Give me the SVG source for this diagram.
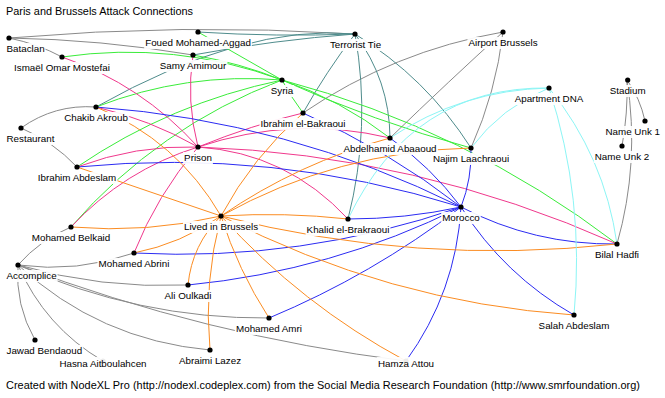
<svg xmlns="http://www.w3.org/2000/svg" width="665" height="398" viewBox="0 0 665 398">
<style>
text{font-family:"Liberation Sans",Arial,sans-serif;font-size:9.8px;fill:#000}
.ttl{font-size:10.9px}
#edges path{fill:none;stroke-width:1}
.g{stroke:#8a8a8a}.t{stroke:#4f8c8c}.gr{stroke:#3aec3a}.p{stroke:#f0388c}.b{stroke:#2b2bf2}.o{stroke:#fb8c22}.c{stroke:#8cf5f5}
.n circle{fill:#000}
.n rect{fill:#fff;fill-opacity:.92}
.m{text-anchor:middle}
</style>
<rect width="665" height="398" fill="#fff"/>
<text class="ttl" x="6" y="15">Paris and Brussels Attack Connections</text>
<g id="edges">
<path class="g" d="M9 38 Q38 44 62 57"/>
<path class="g" d="M9 38 Q101 39.5 193 55"/>
<path class="g" d="M9 38 Q182 23 355 34"/>
<path class="g" d="M21 128 Q54.7 104 96 107"/>
<path class="g" d="M21 128 Q53 141.5 77 167"/>
<path class="g" d="M503 32 Q394 51 303 113"/>
<path class="g" d="M503 32 Q450 80 390 138"/>
<path class="g" d="M503 32 Q496 92 471 148"/>
<path class="g" d="M18 265 Q40 240 71 227"/>
<path class="g" d="M18 265 Q77 273 134 253"/>
<path class="g" d="M18 265 Q101 289 188 285"/>
<path class="g" d="M18 265 Q138 319 269 318"/>
<path class="g" d="M18 265 Q99 340 210 350"/>
<path class="g" d="M18 265 Q206 336 406 361"/>
<path class="g" d="M18 265 Q15 305 35 340"/>
<path class="g" d="M18 265 Q45 327 103 361"/>
<path class="g" d="M627 80 Q640 98 645 121"/>
<path class="g" d="M627 80 Q628 113 622 146"/>
<path class="g" d="M627 80 Q640 163 617 244"/>
<path class="t" d="M198 32 Q276 37 355 34"/>
<path class="t" d="M193 55 Q274 40 355 34"/>
<path class="t" d="M96 107 Q244.5 23.5 355 34"/>
<path class="t" d="M355 34 Q326 72 303 113"/>
<path class="t" d="M355 34 Q371.5 126.5 348 219"/>
<path class="t" d="M355 34 Q389.5 80 390 138"/>
<path class="t" d="M355 34 Q426 77.5 471 148"/>
<path class="gr" d="M198 32 Q240 56 282 80"/>
<path class="gr" d="M62 57 Q175 40.6 282 80"/>
<path class="gr" d="M193 55 Q240 63 282 80"/>
<path class="gr" d="M96 107 Q186 72 282 80"/>
<path class="gr" d="M77 167 Q171 103 282 80"/>
<path class="gr" d="M71 227 Q158 127 282 80"/>
<path class="gr" d="M282 80 Q291 97 303 113"/>
<path class="gr" d="M282 80 Q341 100 390 138"/>
<path class="gr" d="M282 80 Q374 121.5 471 148"/>
<path class="gr" d="M282 80 Q466 129 617 244"/>
<path class="p" d="M62 57 Q141.6 84.5 198 147"/>
<path class="p" d="M193 55 Q186 101 198 147"/>
<path class="p" d="M96 107 Q150 119.6 198 147"/>
<path class="p" d="M77 167 Q135.5 145 198 147"/>
<path class="p" d="M71 227 Q124 170 198 147"/>
<path class="p" d="M134 253 Q157 195 198 147"/>
<path class="p" d="M198 147 Q252 125 303 113"/>
<path class="p" d="M198 147 Q294 115 390 138"/>
<path class="p" d="M198 147 Q417 154.6 617 244"/>
<path class="p" d="M198 147 Q287 153 348 219"/>
<path class="b" d="M96 107 Q288 121 461 207"/>
<path class="b" d="M77 167 Q273 148 461 207"/>
<path class="b" d="M303 113 Q388 150 461 207"/>
<path class="b" d="M390 138 Q431 167 461 207"/>
<path class="b" d="M471 148 Q472 178.5 461 207"/>
<path class="b" d="M348 219 Q405 219 461 207"/>
<path class="b" d="M134 253 Q302 262 461 207"/>
<path class="b" d="M188 285 Q332 271 461 207"/>
<path class="b" d="M269 318 Q372 275 461 207"/>
<path class="b" d="M406 361 Q456 292 461 207"/>
<path class="b" d="M574 315 Q504 275 461 207"/>
<path class="b" d="M617 244 Q534 245 461 207"/>
<path class="o" d="M96 107 Q177 140 221 216"/>
<path class="o" d="M77 167 Q149 191.5 221 216"/>
<path class="o" d="M71 227 Q147 233.5 221 216"/>
<path class="o" d="M303 113 Q252.6 157 221 216"/>
<path class="o" d="M390 138 Q299 162.5 221 216"/>
<path class="o" d="M471 148 Q337.6 151 221 216"/>
<path class="o" d="M348 219 Q285 212 221 216"/>
<path class="o" d="M617 244 Q416.5 266 221 216"/>
<path class="o" d="M574 315 Q387 302 221 216"/>
<path class="o" d="M406 361 Q301 304.6 221 216"/>
<path class="o" d="M269 318 Q238 270 221 216"/>
<path class="o" d="M210 350 Q203.5 282 221 216"/>
<path class="o" d="M188 285 Q192 244.5 221 216"/>
<path class="o" d="M134 253 Q181 243.7 221 216"/>
<path class="c" d="M549 88 Q462 90 390 138"/>
<path class="c" d="M549 88 Q501.5 107 471 148"/>
<path class="c" d="M549 88 Q412 86 348 219"/>
<path class="c" d="M549 88 Q585 199 574 315"/>
<path class="c" d="M549 88 Q604.6 156.6 617 244"/>
</g>
<g id="n-bataclan" class="n"><circle cx="9" cy="38" r="2.6"/><rect x="5.5" y="43" width="40" height="12"/><text x="6.5" y="52">Bataclan</text></g>
<g id="n-foued" class="n"><circle cx="198" cy="32" r="2.6"/><rect x="144.2" y="37" width="107.7" height="12"/><text class="m" x="198" y="46">Foued Mohamed-Aggad</text></g>
<g id="n-ismael" class="n"><circle cx="62" cy="57" r="2.6"/><rect x="13.4" y="62" width="97.3" height="12"/><text class="m" x="62" y="71">Ismaël Omar Mostefai</text></g>
<g id="n-samy" class="n"><circle cx="193" cy="55" r="2.6"/><rect x="158.5" y="60" width="69" height="12"/><text class="m" x="193" y="69">Samy Amimour</text></g>
<g id="n-terrorist-tie" class="n"><circle cx="355" cy="34" r="2.6"/><rect x="328.1" y="39" width="54.8" height="12"/><text class="m" x="355.5" y="48">Terrorist Tie</text></g>
<g id="n-airport" class="n"><circle cx="503" cy="32" r="2.6"/><rect x="467.4" y="37" width="71.2" height="12"/><text class="m" x="503" y="46">Airport Brussels</text></g>
<g id="n-syria" class="n"><circle cx="282" cy="80" r="2.6"/><rect x="269.9" y="85" width="24.3" height="12"/><text class="m" x="282" y="94">Syria</text></g>
<g id="n-chakib" class="n"><circle cx="96" cy="107" r="2.6"/><rect x="62.9" y="112" width="66.3" height="12"/><text class="m" x="96" y="121">Chakib Akroub</text></g>
<g id="n-restaurant" class="n"><circle cx="21" cy="128" r="2.6"/><rect x="5.5" y="133" width="49.9" height="12"/><text x="6.5" y="142">Restaurant</text></g>
<g id="n-ibrahim-bakraoui" class="n"><circle cx="303" cy="113" r="2.6"/><rect x="259.5" y="118" width="87" height="12"/><text class="m" x="303" y="127">Ibrahim el-Bakraoui</text></g>
<g id="n-stadium" class="n"><circle cx="627.7" cy="80" r="2.6"/><rect x="608.8" y="85" width="37.9" height="12"/><text class="m" x="627.7" y="94">Stadium</text></g>
<g id="n-apartment-dna" class="n"><circle cx="549" cy="88" r="2.6"/><rect x="513.7" y="93" width="70.6" height="12"/><text class="m" x="549" y="102">Apartment DNA</text></g>
<g id="n-name-unk-1" class="n"><circle cx="645" cy="121" r="2.6"/><rect x="604.5" y="126" width="56.5" height="12"/><text x="605.5" y="135">Name Unk 1</text></g>
<g id="n-name-unk-2" class="n"><circle cx="622" cy="146" r="2.6"/><rect x="593.8" y="151" width="56.5" height="12"/><text class="m" x="622" y="160">Name Unk 2</text></g>
<g id="n-prison" class="n"><circle cx="198" cy="147" r="2.6"/><rect x="183.1" y="152" width="29.8" height="12"/><text class="m" x="198" y="161">Prison</text></g>
<g id="n-abaaoud" class="n"><circle cx="390" cy="138" r="2.6"/><rect x="342.2" y="143" width="95.7" height="12"/><text class="m" x="390" y="152">Abdelhamid Abaaoud</text></g>
<g id="n-najim" class="n"><circle cx="471" cy="148" r="2.6"/><rect x="431.9" y="153" width="78.2" height="12"/><text class="m" x="471" y="162">Najim Laachraoui</text></g>
<g id="n-ibrahim-abdeslam" class="n"><circle cx="77" cy="167" r="2.6"/><rect x="36.5" y="172" width="81" height="12"/><text class="m" x="77" y="181">Ibrahim Abdeslam</text></g>
<g id="n-lived-brussels" class="n"><circle cx="221" cy="216" r="2.6"/><rect x="183" y="221" width="76.1" height="12"/><text class="m" x="221" y="230">Lived in Brussels</text></g>
<g id="n-morocco" class="n"><circle cx="461" cy="207" r="2.6"/><rect x="441.2" y="212" width="39.6" height="12"/><text class="m" x="461" y="221">Morocco</text></g>
<g id="n-khalid" class="n"><circle cx="348" cy="219" r="2.6"/><rect x="305.6" y="224" width="84.8" height="12"/><text class="m" x="348" y="233">Khalid el-Brakraoui</text></g>
<g id="n-belkaid" class="n"><circle cx="71" cy="227" r="2.6"/><rect x="30.8" y="232" width="80.4" height="12"/><text class="m" x="71" y="241">Mohamed Belkaid</text></g>
<g id="n-bilal" class="n"><circle cx="617" cy="244" r="2.6"/><rect x="594" y="249" width="46.1" height="12"/><text class="m" x="617" y="258">Bilal Hadfi</text></g>
<g id="n-abrini" class="n"><circle cx="134" cy="253" r="2.6"/><rect x="97.4" y="258" width="73.3" height="12"/><text class="m" x="134" y="267">Mohamed Abrini</text></g>
<g id="n-accomplice" class="n"><circle cx="18" cy="265" r="2.6"/><rect x="5.5" y="270" width="52.1" height="12"/><text x="6.5" y="279">Accomplice</text></g>
<g id="n-ali" class="n"><circle cx="188" cy="285" r="2.6"/><rect x="163.6" y="290" width="48.8" height="12"/><text class="m" x="188" y="299">Ali Oulkadi</text></g>
<g id="n-amri" class="n"><circle cx="269" cy="318" r="2.6"/><rect x="234.8" y="323" width="68.4" height="12"/><text class="m" x="269" y="332">Mohamed Amri</text></g>
<g id="n-salah" class="n"><circle cx="574" cy="315" r="2.6"/><rect x="537.3" y="320" width="73.4" height="12"/><text class="m" x="574" y="329">Salah Abdeslam</text></g>
<g id="n-jawad" class="n"><circle cx="35" cy="340" r="2.6"/><rect x="5.5" y="345" width="77.7" height="12"/><text x="6.5" y="354">Jawad Bendaoud</text></g>
<g id="n-lazez" class="n"><circle cx="210" cy="350" r="2.6"/><rect x="178" y="355" width="64.1" height="12"/><text class="m" x="210" y="364">Abraimi Lazez</text></g>
<g id="n-hasna" class="n"><circle cx="103" cy="361" r="2.6"/><rect x="58.7" y="357" width="88.7" height="13" fill-opacity="1"/><text class="m" x="103" y="367">Hasna Aitboulahcen</text></g>
<g id="n-hamza" class="n"><circle cx="406" cy="361" r="2.6"/><rect x="376.7" y="357" width="58.6" height="13" fill-opacity="1"/><text class="m" x="406" y="367">Hamza Attou</text></g>
<text class="ttl" x="6" y="389" textLength="634">Created with NodeXL Pro (http://nodexl.codeplex.com) from the Social Media Research Foundation (http://www.smrfoundation.org)</text>
</svg>
